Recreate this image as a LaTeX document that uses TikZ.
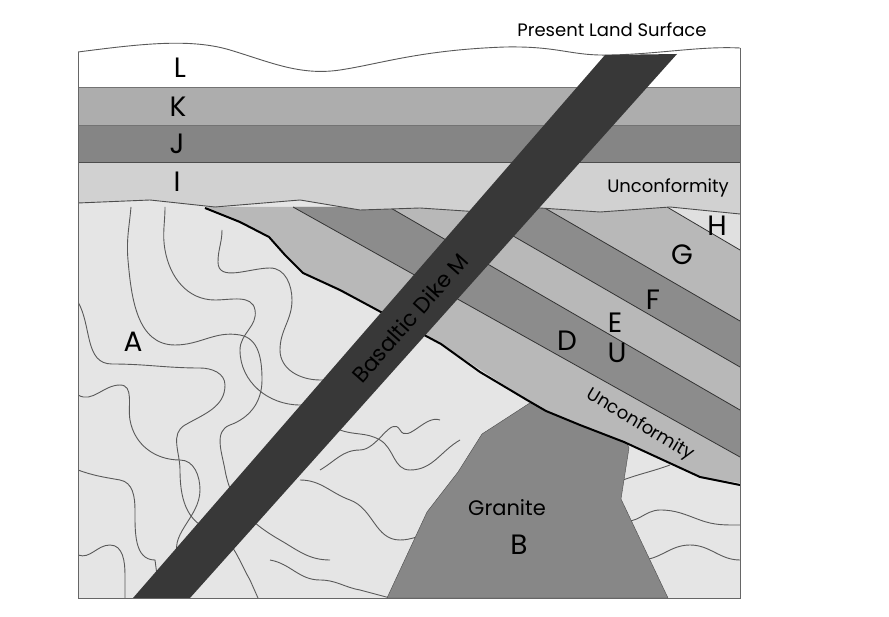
\documentclass[tikz,border=0pt]{standalone}
\usepackage{fontspec}
\setmainfont{Poppins}
\begin{document}
\begin{tikzpicture}[x=1pt,y=-1pt,
  fold/.style={draw=black!65,line width=0.9pt},
  lab/.style={font=\fontsize{28}{30}\selectfont},
  small/.style={font=\fontsize{18}{20}\selectfont}]
\useasboundingbox (0,0) rectangle (889,617);
\fill[white] (0,0) rectangle (889,617);
\begin{scope}
\clip (78,0) rectangle (740,598);
% basement A
\fill[black!10] (78,150) rectangle (740,598);
% folds
\draw[fold] (131,207) to[out=-95,in=95] (128,260) to[out=-85,in=180] (175,345) to[out=0,in=170] (240,335) to[out=-10,in=90] (262,380) to[out=-90,in=20] (230,425) to[out=-160,in=100] (225,470) to[out=-80,in=150] (280,540) to[out=-30,in=180] (330,560);
\draw[fold] (78,302) to[out=-60,in=180] (112,364) to[out=0,in=180] (200,368) to[out=0,in=90] (225,385) to[out=-90,in=30] (185,425) to[out=-150,in=90] (180,470) to[out=-90,in=160] (210,530) to[out=-20,in=120] (250,580) to (258,598);
\draw[fold] (165,207) to[out=-90,in=100] (165,250) to[out=-80,in=180] (215,300) to[out=0,in=100] (255,310) to[out=-80,in=90] (240,350) to[out=-90,in=180] (300,405) to[out=0,in=200] (340,400) to[out=20,in=-120] (380,380);
\draw[fold] (222,230) to[out=-90,in=90] (218,262) to[out=-90,in=180] (270,268) to[out=0,in=90] (292,300) to[out=-90,in=90] (280,350) to[out=-90,in=180] (320,380) to[out=0,in=-150] (370,370);
\draw[fold] (78,395) to[out=-30,in=180] (120,385) to[out=0,in=100] (130,420) to[out=-80,in=180] (180,460) to[out=0,in=90] (200,490) to[out=-90,in=120] (180,560) to (185,598);
\draw[fold] (78,470) to[out=-20,in=170] (120,480) to[out=-10,in=90] (135,510) to[out=-90,in=180] (155,560) to (160,598);
\draw[fold] (78,555) to[out=-20,in=180] (110,545) to[out=0,in=90] (125,575) to (125,598);
\draw[fold] (340,430) to[out=-20,in=150] (380,440) to[out=-30,in=180] (410,470) to[out=0,in=-150] (460,440);
\draw[fold] (300,480) to[out=0,in=160] (350,500) to[out=-20,in=180] (400,540) to[out=0,in=180] (430,535);
\draw[fold] (270,560) to[out=-10,in=180] (320,580) to[out=0,in=170] (360,590) to (390,598);
\draw[fold] (320,470) to[out=30,in=180] (360,450) to[out=0,in=120] (400,430) to[out=-60,in=160] (440,420);
\draw[fold] (623,480) to[out=20,in=-160] (670,465);
\draw[fold] (622,520) to[out=-20,in=180] (660,510) to[out=0,in=160] (700,520) to[out=-20,in=180] (740,525);
\draw[fold] (640,560) to[out=0,in=180] (690,545) to[out=0,in=180] (740,560);
% granite
\fill[black!47,draw=black!70] (387,598) -- (427,512) -- (458,472) -- (482,434) -- (536,399) -- (546,411) -- (624,436) -- (629,448) -- (621,499) -- (668,598) -- cycle;
% tilted beds
\fill[black!28] (205,207) -- (740,207) -- (740,483) -- (700,477) -- (624,442) -- (546,411) -- (527,400) -- (441,344) -- (379,311) -- (303,273) -- (269,237) -- cycle;
\fill[black!45] (293,207) -- (389,207) -- (740,410) -- (740,457) -- cycle;
\fill[black!45] (463,207) -- (543,207) -- (740,321) -- (740,367) -- cycle;
\fill[black!12] (667,207) -- (740,207) -- (740,250) -- cycle;
\draw[black!80,line width=0.8pt] (293,207) -- (740,457) (389,207) -- (740,410) (463,207) -- (740,367) (543,207) -- (740,321) (667,207) -- (740,250);
\draw[black,line width=2pt,line join=round] (205,208) -- (240,222) -- (269,237) -- (285,255) -- (303,273) -- (340,290) -- (379,311) -- (441,344) -- (480,372) -- (527,400) -- (546,411) -- (580,425) -- (624,442) -- (700,477) -- (740,485);
% young horizontal layers
\fill[black!18] (78,150) -- (740,150) -- (740,214) -- (670,207) -- (600,212) -- (540,208) -- (480,212) -- (420,208) -- (360,210) -- (300,200) -- (215,207) -- (150,200) -- (78,203) -- cycle;
\draw[black!70,line width=0.9pt] (78,203) -- (150,200) -- (215,207) -- (300,200) -- (360,210) -- (420,208) -- (480,212) -- (540,208) -- (600,212) -- (670,207) -- (740,214);
\fill[black!48,draw=black!70] (78,125) rectangle (740,162);
\fill[black!32,draw=black!55] (78,87) rectangle (740,125);
\fill[white] (78,87) -- (78,52) .. controls (140,44) and (190,38) .. (230,50) .. controls (270,62) and (300,76) .. (340,70) .. controls (380,64) and (420,50) .. (505,47) .. controls (560,46) and (570,56) .. (610,55) .. controls (660,54) and (700,46) .. (740,48) -- (740,87) -- cycle;
\draw[black!65,line width=0.9pt] (78,52) .. controls (140,44) and (190,38) .. (230,50) .. controls (270,62) and (300,76) .. (340,70) .. controls (380,64) and (420,50) .. (505,47) .. controls (560,46) and (570,56) .. (610,55) .. controls (660,54) and (700,46) .. (740,48);
% dike
\fill[black!78] (133,598) -- (190,598) -- (677,54) -- (605,55) -- cycle;
\end{scope}
\draw[black!60,line width=0.6pt] (78,52) -- (78,598) -- (740,598) -- (740,48);
% labels
\node[lab] (nL) at (180,68) {L};
\node[lab] (nK) at (178,107) {K};
\node[lab] (nJ) at (177,144) {J};
\node[lab] (nI) at (177,182) {I};
\node[small] (pls) at (612,30) {Present Land Surface};
\node[small] (unc1) at (668,188) {Unconformity};
\node[lab] (nH) at (717,226) {H};
\node[lab] (nG) at (682,255) {G};
\node[lab] (nF) at (653,300) {F};
\node[lab] (nE) at (615,323) {E};
\node[lab] (nD) at (567,341) {D};
\node[lab] (nU) at (617,353) {U};
\node[lab] (nA) at (133,342) {A};
\node[lab] (nB) at (519,545) {B};
\node[font=\fontsize{21}{23}\selectfont] (gr) at (507,508) {Granite};
\node[font=\fontsize{22}{24}\selectfont,rotate=48.6] (dike) at (410,318) {Basaltic Dike M};
\node[small,rotate=-31] (unc2) at (640,425) {Unconformity};
\end{tikzpicture}
\end{document}
